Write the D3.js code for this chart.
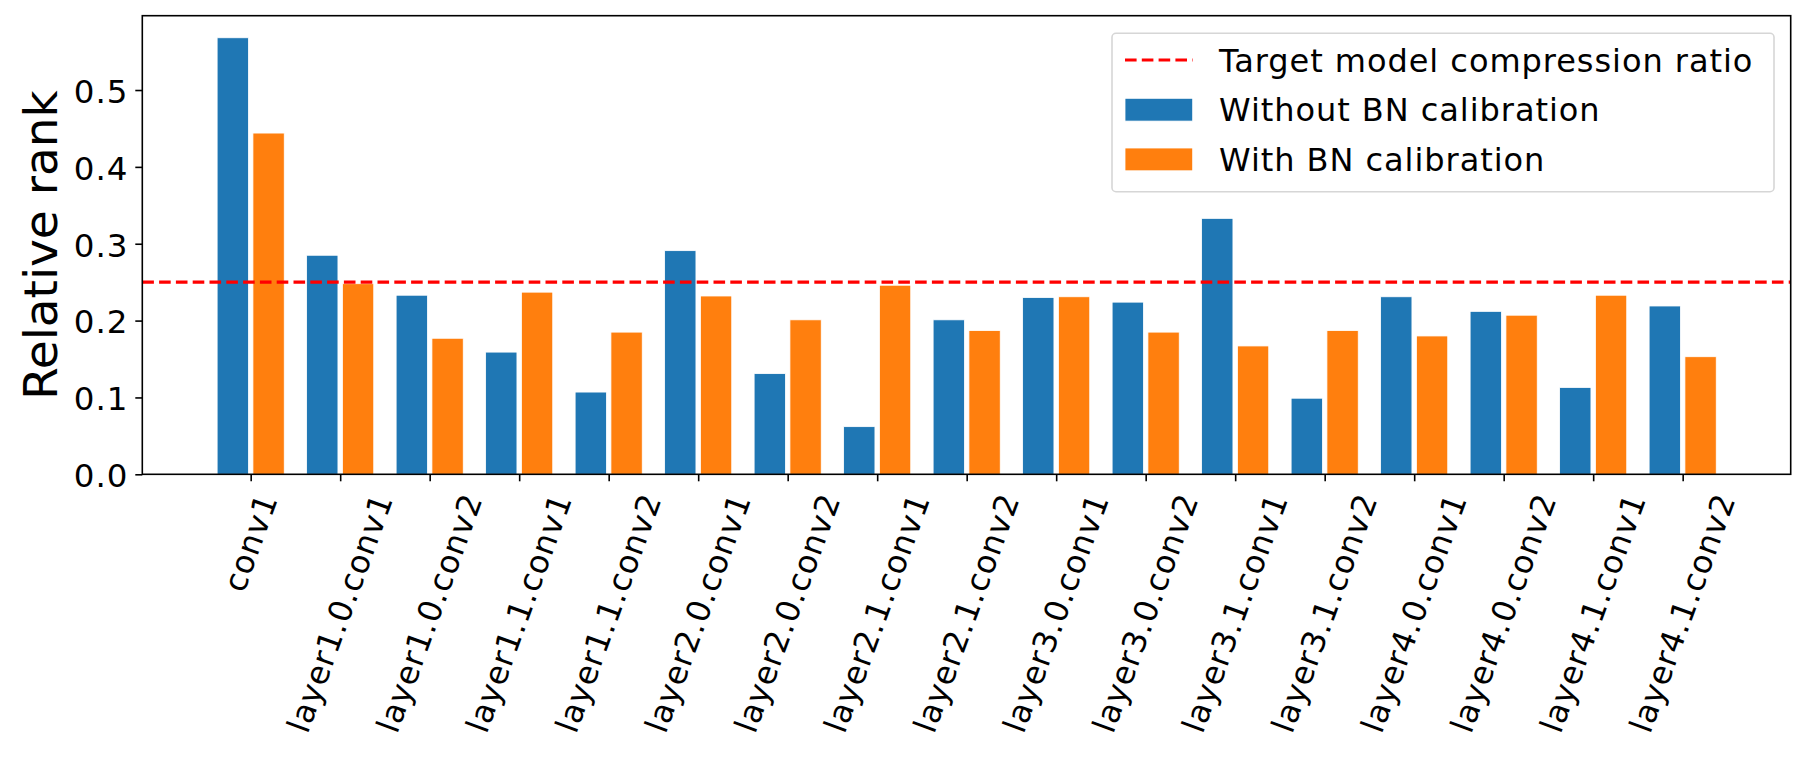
<!DOCTYPE html>
<html>
<head>
<meta charset="utf-8">
<script src="https://cdn.jsdelivr.net/npm/d3@7"></script>
<style>
  body { margin: 0; background: #fff; }
  svg { display: block; font-family: "DejaVu Sans", sans-serif; }
</style>
</head>
<body>
<svg width="1806" height="757"></svg>
<script>
const layers = ["conv1", "layer1.0.conv1", "layer1.0.conv2", "layer1.1.conv1", "layer1.1.conv2",
  "layer2.0.conv1", "layer2.0.conv2", "layer2.1.conv1", "layer2.1.conv2", "layer3.0.conv1",
  "layer3.0.conv2", "layer3.1.conv1", "layer3.1.conv2", "layer4.0.conv1", "layer4.0.conv2",
  "layer4.1.conv1", "layer4.1.conv2"]
const withoutBN = [0.568, 0.285, 0.233, 0.159, 0.107, 0.291, 0.131, 0.062, 0.201, 0.230,
  0.224, 0.333, 0.099, 0.231, 0.212, 0.113, 0.219]
const withBN = [0.444, 0.248, 0.177, 0.237, 0.185, 0.232, 0.201, 0.246, 0.187, 0.231,
  0.185, 0.167, 0.187, 0.180, 0.207, 0.233, 0.153]
const targetRatio = 0.25
const yTicks = [0.0, 0.1, 0.2, 0.3, 0.4, 0.5]
const legendLabels = ["Target model compression ratio", "Without BN calibration", "With BN calibration"]

const plotL = 142.3, plotR = 1790.7, plotT = 15.7, plotB = 474.3
const blue = "#1f77b4", orange = "#ff7f0e"
const spacing = 0.95  // matplotlib's hinted glyphs run a bit wider

const svg = d3.select("svg")

const x = d3.scaleLinear().domain([-1.211, 17.207]).range([plotL, plotR])
const y = d3.scaleLinear().domain([0, 0.5967]).range([plotB, plotT])

const barW = 0.35
const series = [
  { values: withoutBN, offset: -0.2, color: blue },
  { values: withBN, offset: 0.2, color: orange },
]

series.forEach(s => {
  svg.append("g").selectAll("rect")
    .data(s.values)
    .enter()
    .append("rect")
      .attr("x", (d, i) => x(i + s.offset - barW / 2))
      .attr("width", x(barW) - x(0))
      .attr("y", d => y(d))
      .attr("height", d => y(0) - y(d))
      .attr("fill", s.color)
      .attr("stroke", "#fff")
      .attr("stroke-width", 0.8)
})

// target line
svg.append("line")
  .attr("x1", plotL).attr("x2", plotR)
  .attr("y1", y(targetRatio)).attr("y2", y(targetRatio))
  .attr("stroke", "#ff0000")
  .attr("stroke-width", 3.1)
  .attr("stroke-dasharray", "11.6,5.2")

// y axis
const yAxis = svg.append("g")
  .attr("transform", `translate(${plotL},0)`)
  .call(d3.axisLeft(y).tickValues(yTicks).tickFormat(d3.format(".1f")).tickSize(7).tickPadding(7))
yAxis.select(".domain").remove()
yAxis.selectAll("line").attr("stroke", "#000").attr("stroke-width", 1.6)
yAxis.selectAll("text")
  .attr("font-size", 32.5)
  .attr("font-family", "DejaVu Sans")
  .attr("letter-spacing", spacing)
  .attr("fill", "#000")
  .attr("dy", "0.38em")

// x axis
const xAxis = svg.append("g")
  .attr("transform", `translate(0,${plotB})`)
  .call(d3.axisBottom(x).tickValues(d3.range(layers.length)).tickFormat(i => layers[i]).tickSize(7))
xAxis.select(".domain").remove()
xAxis.selectAll("line").attr("stroke", "#000").attr("stroke-width", 1.6)
xAxis.selectAll("text")
  .attr("font-size", 32)
  .attr("font-family", "DejaVu Sans")
  .attr("letter-spacing", spacing)
  .attr("fill", "#000")
  .attr("text-anchor", "end")
  .attr("dy", "0.35em")
  .attr("y", 0)
  .attr("transform", "rotate(-70)")

// center the rotated label box under each tick, top at a fixed pad
xAxis.selectAll(".tick").each(function(d) {
  const t = d3.select(this).select("text")
  const box = t.node().getBoundingClientRect()
  const cx = box.left + box.width / 2
  const dx = x(d) - cx
  const dy = plotB + 14 - box.top
  t.attr("transform", `translate(${dx},${dy}) rotate(-70)`)
})

// frame
svg.append("rect")
  .attr("x", plotL).attr("y", plotT)
  .attr("width", plotR - plotL).attr("height", plotB - plotT)
  .attr("fill", "none")
  .attr("stroke", "#000")
  .attr("stroke-width", 1.6)

// y label
svg.append("text")
  .attr("transform", `translate(57,${(plotT + plotB) / 2}) rotate(-90)`)
  .attr("text-anchor", "middle")
  .attr("font-size", 47)
  .attr("fill", "#000")
  .text("Relative rank")

// legend
const legend = svg.append("g")
legend.append("rect")
  .attr("x", 1112).attr("y", 33.3)
  .attr("width", 1774 - 1112).attr("height", 191.7 - 33.3)
  .attr("rx", 4).attr("ry", 4)
  .attr("fill", "#fff").attr("fill-opacity", 0.8)
  .attr("stroke", "#d6d6d6").attr("stroke-width", 1.6)

const rowY = [60, 109.7, 159.4]
legend.append("line")
  .attr("x1", 1125).attr("x2", 1192.7)
  .attr("y1", rowY[0]).attr("y2", rowY[0])
  .attr("stroke", "#ff0000").attr("stroke-width", 3.1)
  .attr("stroke-dasharray", "11.6,5.2")
;[blue, orange].forEach((c, i) => {
  legend.append("rect")
    .attr("x", 1125).attr("y", rowY[i + 1] - 11.4)
    .attr("width", 67.7).attr("height", 22.8)
    .attr("fill", c)
    .attr("stroke", "#fff").attr("stroke-width", 0.8)
})
legend.selectAll("text.lbl")
  .data(legendLabels)
  .enter()
  .append("text")
    .attr("class", "lbl")
    .attr("x", 1219)
    .attr("y", (d, i) => rowY[i] + 11.7)
    .attr("font-size", 32)
    .attr("letter-spacing", spacing)
    .attr("fill", "#000")
    .text(d => d)
</script>
</body>
</html>
